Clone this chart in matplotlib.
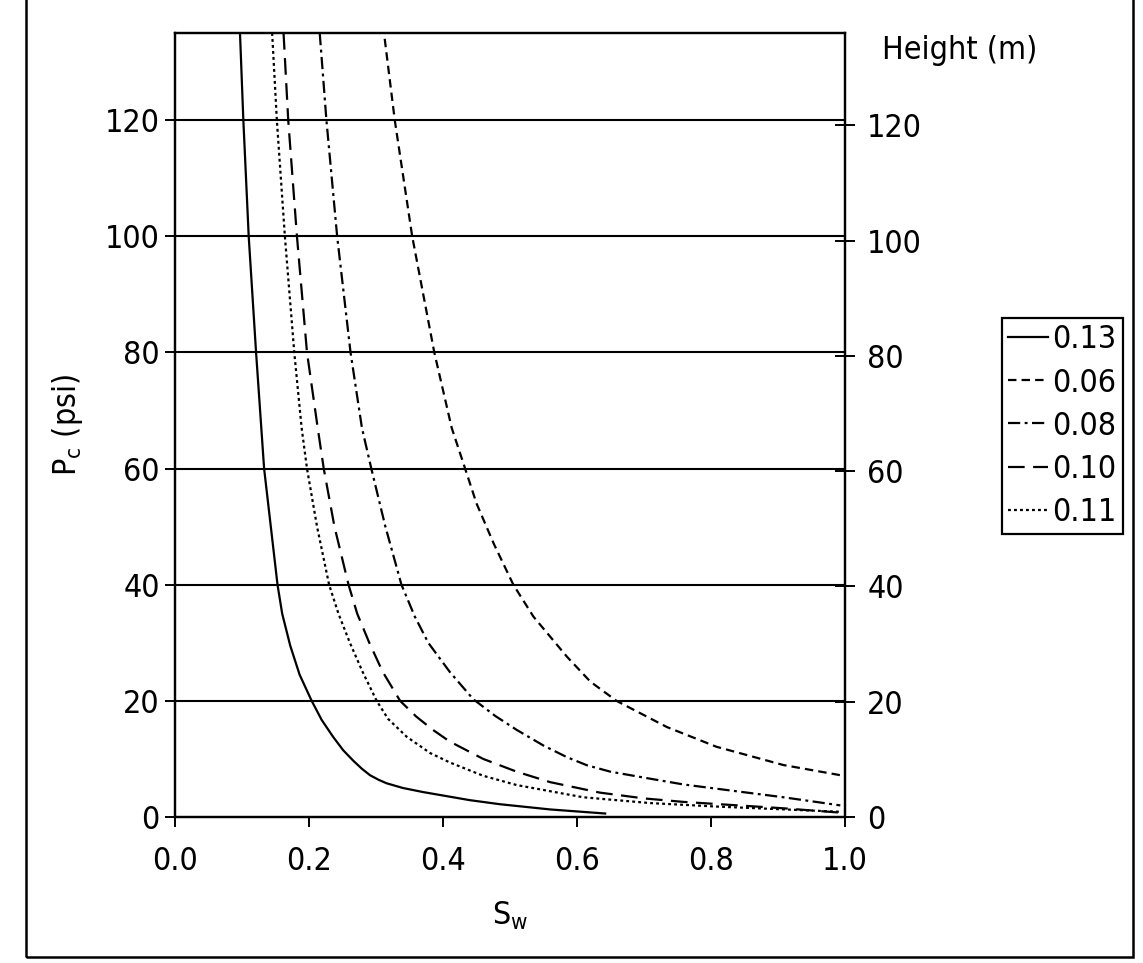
import matplotlib
matplotlib.use('Agg')
import matplotlib.pyplot as plt
from matplotlib.patches import Rectangle

plt.rcParams['font.family'] = 'DejaVu Sans'
plt.rcParams['font.stretch'] = 'condensed'

# curves (Sw, Pc in psi)
sw_013 = [0.097, 0.102, 0.110, 0.121, 0.133, 0.143, 0.153, 0.160, 0.172, 0.186, 0.204, 0.219, 0.236, 0.251, 0.266, 0.279, 0.291, 0.304, 0.316, 0.340, 0.370, 0.410, 0.440, 0.485, 0.560, 0.642]
pc_013 = [135, 120, 100, 80, 60, 50, 40, 35, 29.5, 24.5, 20, 16.7, 13.8, 11.5, 9.7, 8.3, 7.2, 6.4, 5.8, 5.0, 4.3, 3.5, 2.9, 2.2, 1.3, 0.6]

sw_006 = [0.313, 0.328, 0.354, 0.387, 0.413, 0.433, 0.450, 0.476, 0.505, 0.535, 0.585, 0.620, 0.659, 0.734, 0.808, 0.908, 0.993]
pc_006 = [134, 120, 100, 80, 67, 60, 54, 47, 40, 34.5, 27.6, 23.3, 20, 15.5, 12.1, 8.95, 7.2]

sw_008 = [0.216, 0.226, 0.242, 0.262, 0.279, 0.293, 0.314, 0.338, 0.358, 0.378, 0.410, 0.445, 0.478, 0.510, 0.550, 0.585, 0.615, 0.650, 0.709, 0.759, 0.908, 0.993]
pc_008 = [135, 120, 100, 80, 67, 60, 50, 40, 34.5, 30, 25.0, 20.3, 17.4, 15.0, 12.3, 10.3, 8.9, 7.8, 6.6, 5.6, 3.4, 2.0]

sw_010 = [0.162, 0.169, 0.182, 0.197, 0.213, 0.222, 0.238, 0.259, 0.272, 0.290, 0.310, 0.336, 0.360, 0.385, 0.410, 0.460, 0.510, 0.560, 0.634, 0.700, 0.759, 0.908, 0.993]
pc_010 = [135, 120, 100, 80, 67, 60, 50, 40, 35, 30, 25, 20, 17.3, 15.0, 13.0, 10.0, 7.8, 6.0, 4.2, 3.2, 2.6, 1.5, 0.75]

sw_011 = [0.145, 0.152, 0.164, 0.178, 0.189, 0.197, 0.212, 0.230, 0.244, 0.261, 0.280, 0.301, 0.318, 0.346, 0.381, 0.410, 0.460, 0.510, 0.609, 0.709, 0.808, 0.993]
pc_011 = [135, 120, 100, 80, 67, 60, 50, 40, 35, 30, 25, 20, 16.9, 13.8, 11.0, 9.4, 7.1, 5.5, 3.4, 2.4, 1.8, 0.9]

y_ticks = [0, 20, 40, 60, 80, 100, 120]
x_ticks = [0.0, 0.2, 0.4, 0.6, 0.8, 1.0]
h_ticks = [0, 20, 40, 60, 80, 100, 120]
labels = ['0.13', '0.06', '0.08', '0.10', '0.11']

FS = 23
W, H = 1143, 963
fig = plt.figure(figsize=(W / 100, H / 100), dpi=100)
ax = fig.add_axes([175 / W, 1 - 817 / H, 670 / W, 784 / H])

lw = 1.6
styles = ['-', (0, (3.8, 2.3)), (0, (5.5, 2, 1.3, 2)), (0, (7.5, 3.8)), (0, (1.3, 1.4))]
curves = [(sw_013, pc_013), (sw_006, pc_006), (sw_008, pc_008), (sw_010, pc_010), (sw_011, pc_011)]
handles = []
for (sw, pc), ls, lab in zip(curves, styles, labels):
    h, = ax.plot(sw, pc, color='k', lw=lw, ls=ls, label=lab,
                 solid_joinstyle='round', dash_joinstyle='round')
    handles.append(h)

ax.set_xlim(0, 1.0)
ax.set_ylim(0, 135)
ax.set_xticks(x_ticks)
ax.set_xticklabels([f'{v:.1f}' for v in x_ticks])
ax.set_yticks(y_ticks)
for v in y_ticks[1:]:
    ax.axhline(v, color='k', lw=1.5, zorder=0)
ax.tick_params(axis='both', direction='out', length=7, width=1.4, labelsize=FS, colors='k')
ax.tick_params(axis='x', pad=14)
ax.tick_params(axis='y', pad=4)
for s in ax.spines.values():
    s.set_linewidth(1.6)

ax.set_xlabel(r'S$_\mathregular{w}$', fontsize=FS, labelpad=16)
ax.set_ylabel(r'P$_\mathregular{c}$ (psi)', fontsize=FS, labelpad=14)

ax2 = ax.twinx()
ax2.set_ylim(0, 136)
ax2.set_yticks(h_ticks)
ax2.tick_params(axis='y', direction='inout', length=14, width=1.4, labelsize=FS, pad=9)
for s in ax2.spines.values():
    s.set_linewidth(1.6)
fig.text(882 / W, 1 - 50 / H, 'Height (m)', fontsize=FS, va='center', ha='left')

leg = fig.legend(handles=handles, loc='upper left',
                 bbox_to_anchor=(1002 / W, 1 - 318 / H), fontsize=FS,
                 frameon=True, fancybox=False, edgecolor='k', framealpha=1,
                 handlelength=1.25, handletextpad=0.12, labelspacing=0.38,
                 borderpad=0.2, borderaxespad=0)
leg.get_frame().set_linewidth(1.6)

fig.patches.append(Rectangle((26 / W, 1 - 957 / H), 1107 / W, 1.2, transform=fig.transFigure,
                             fill=False, edgecolor='k', lw=1.8))

fig.savefig('out.png', dpi=100)
